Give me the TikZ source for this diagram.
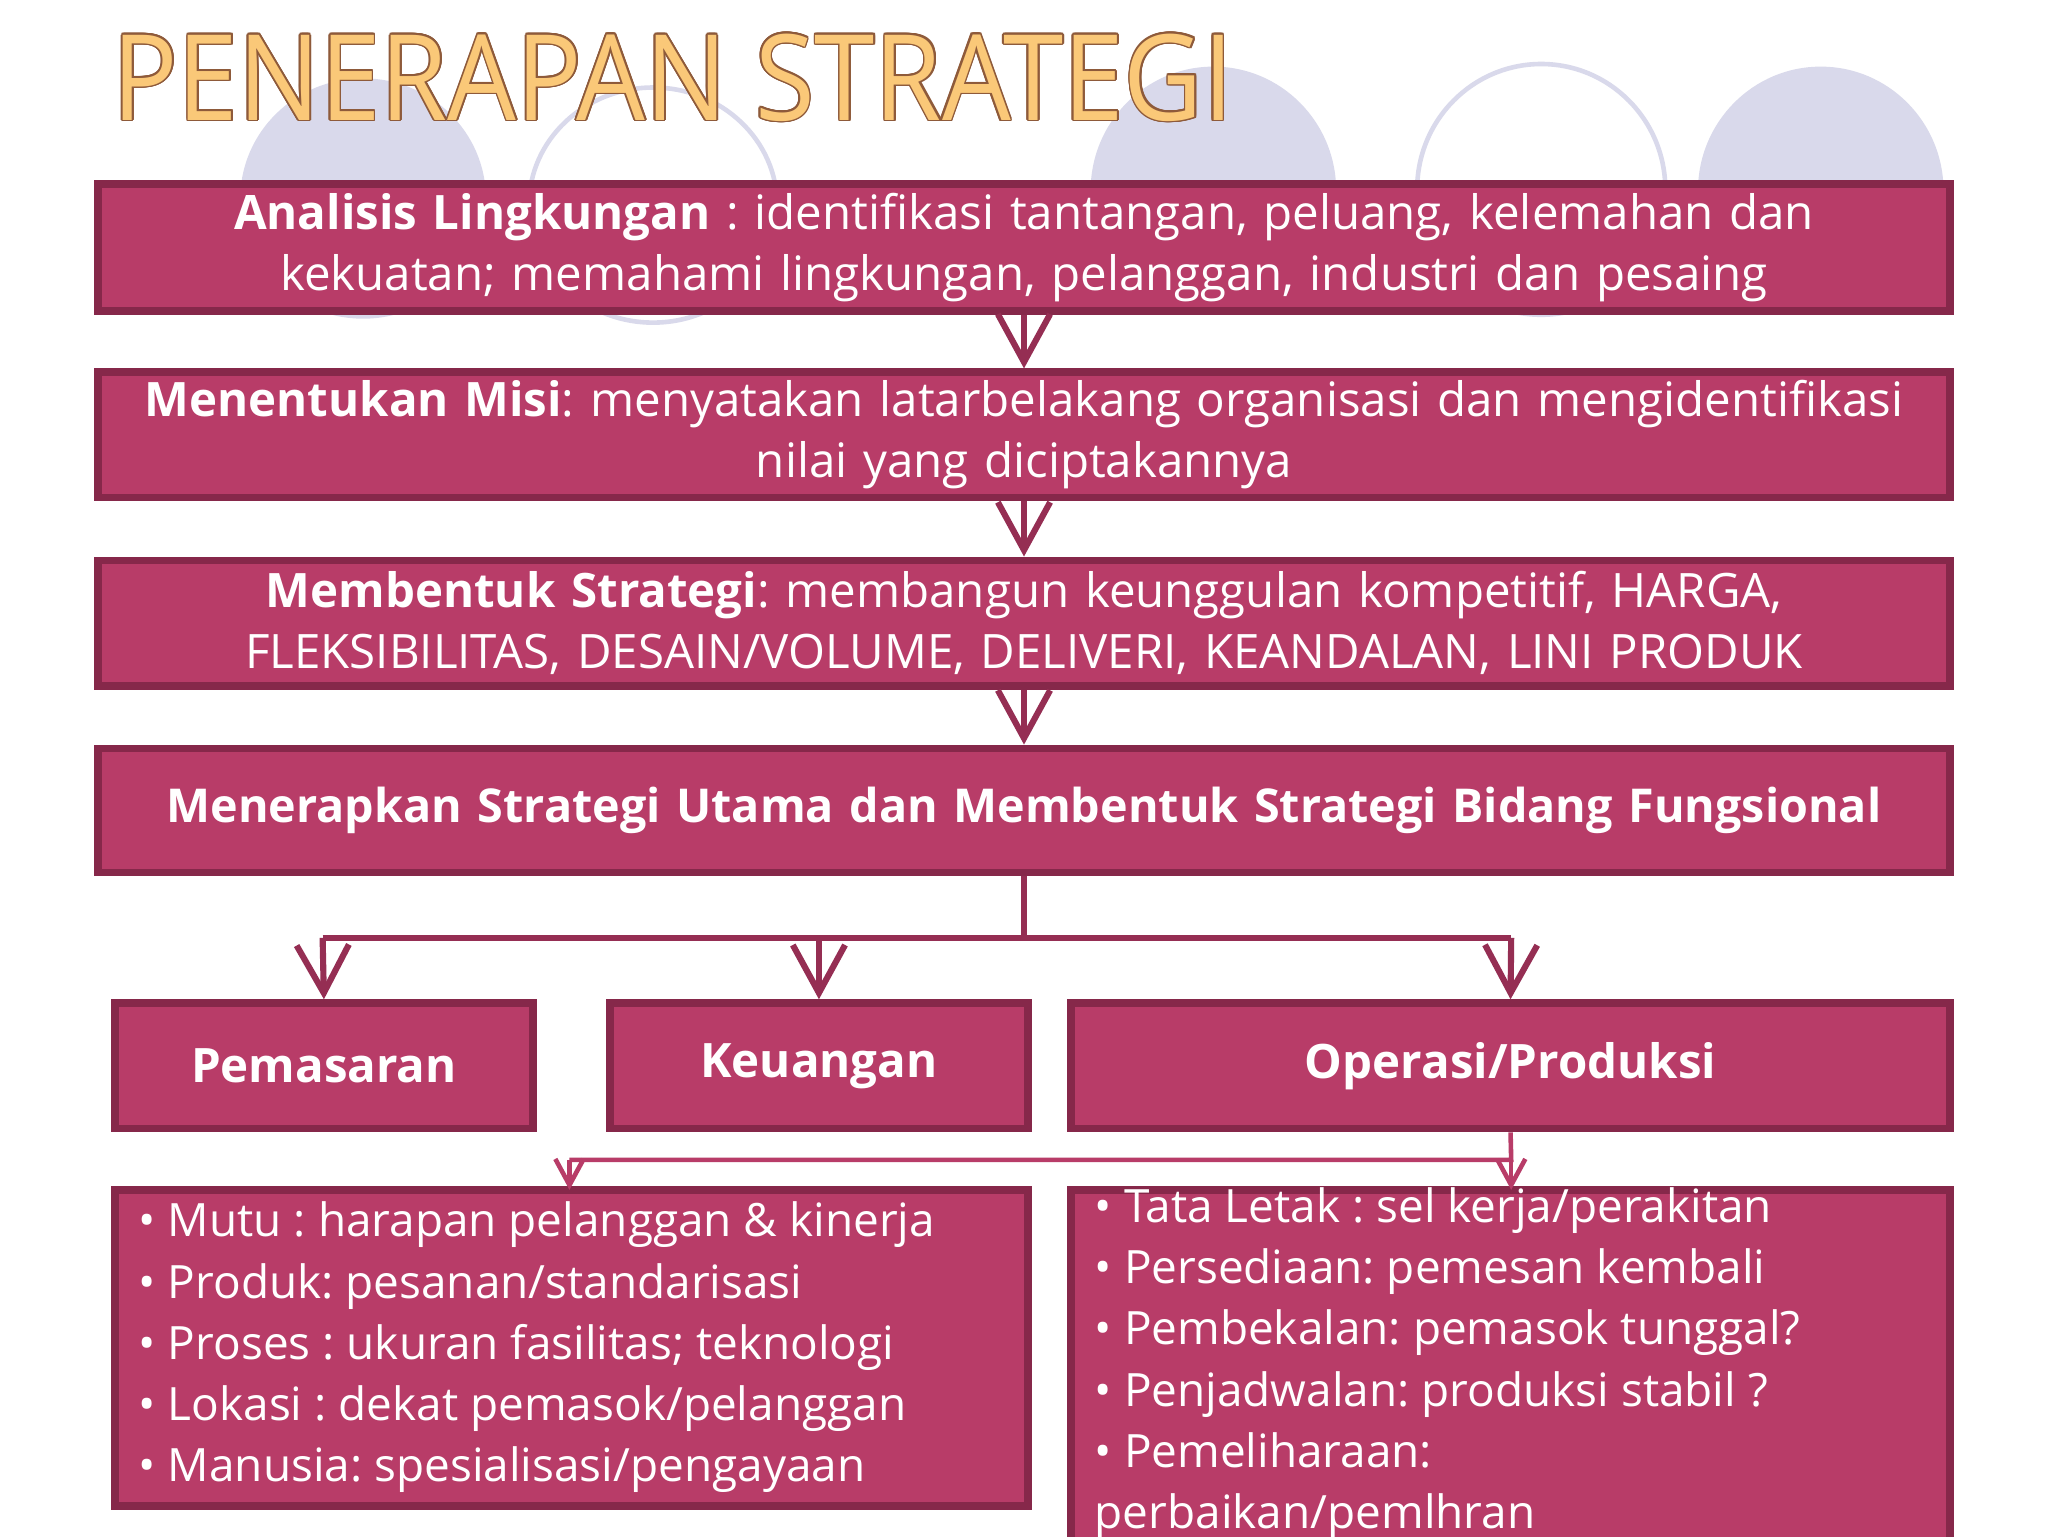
\documentclass[tikz,border=0pt]{standalone}
\usepackage{fontspec}
\setmainfont{Open Sans}
\usepackage[copies]{contour}
\usetikzlibrary{arrows.meta}
\definecolor{boxfill}{HTML}{B83C68}
\definecolor{boxline}{HTML}{86284A}
\definecolor{lav}{HTML}{D9D9EB}
\definecolor{titlefill}{HTML}{FAC878}
\definecolor{titleline}{HTML}{8E5A3A}
\contourlength{1.2pt}
\frenchspacing
\tikzset{
  box/.style={draw=boxline,fill=boxfill,line width=5pt,text=white,inner sep=0pt,align=center},
  btxt/.style={font=\fontsize{31}{40}\selectfont},
  ltxt/.style={anchor=north west,inner sep=0pt,text=white,align=left,font=\fontsize{30}{40}\selectfont},
  conn/.style={draw=boxline!70!boxfill,line width=4pt},
  bigarrow/.style={conn,-{Straight Barb[length=1.1cm,width=1.2cm,line width=4pt]}},
  smallarrow/.style={draw=boxfill,line width=3pt,-{Straight Barb[length=0.6cm,width=0.65cm,line width=3pt]}},
  lavfill/.style={fill=lav},
  lavring/.style={draw=lav,line width=3pt},
}
\begin{document}
\begin{tikzpicture}[x=0.03cm,y=-0.03cm]
\useasboundingbox (0,0) rectangle (1568,1176);
\clip (0,0) rectangle (1568,1176);
\fill[white] (0,0) rectangle (1568,1176);
% background circles
\fill[lavfill] (278,152) ellipse (94 and 92);
\draw[lavring] (500,157) ellipse (95 and 90);
\fill[lavfill] (929,146) ellipse (94 and 95);
\draw[lavring] (1180,145) ellipse (95 and 96);
\fill[lavfill] (1394,146) ellipse (94 and 95);
% title
\node[anchor=west,inner sep=0pt,xscale=0.91,font=\fontsize{78}{80}\selectfont,text=titlefill] (title) at (86,60) {\contour{titleline}{PENERAPAN STRATEGI}};
% main boxes
\node[box,btxt,minimum width=42.54cm,minimum height=2.91cm,text width=41.7cm] (b1) at (784,189.5)
 {\textbf{Analisis Lingkungan} : identifikasi tantangan, peluang, kelemahan dan\\kekuatan; memahami lingkungan, pelanggan, industri dan pesaing};
\node[box,btxt,minimum width=42.54cm,minimum height=2.88cm,text width=41.7cm] (b2) at (784,333)
 {\textbf{Menentukan Misi}: menyatakan latarbelakang organisasi dan mengidentifikasi\\nilai yang diciptakannya};
\node[box,btxt,minimum width=42.54cm,minimum height=2.88cm,text width=41.7cm] (b3) at (784,477)
 {\textbf{Membentuk Strategi}: membangun keunggulan kompetitif, HARGA,\\FLEKSIBILITAS, DESAIN/VOLUME, DELIVERI, KEANDALAN, LINI PRODUK};
\node[box,font=\fontsize{30.5}{40}\selectfont,minimum width=42.54cm,minimum height=2.85cm,text width=41.7cm] (b4) at (784,620.5)
 {\textbf{Menerapkan Strategi Utama dan Membentuk Strategi Bidang Fungsional}};
\node[box,btxt,minimum width=9.6cm,minimum height=2.88cm] (pem) at (248,816) {\textbf{Pemasaran}};
\node[box,btxt,minimum width=9.6cm,minimum height=2.88cm] (keu) at (627,816) {\textbf{Keuangan}};
\node[box,btxt,minimum width=20.19cm,minimum height=2.88cm] (ops) at (1156.5,816) {\textbf{Operasi/Produksi}};
\node[box,minimum width=20.97cm,minimum height=7.26cm] (bl) at (437.5,1032) {};
\node[box,minimum width=20.19cm,minimum height=8.7cm] (br) at (1156.5,1056) {};
\node[ltxt] (blt) at (106,920)
 {• Mutu : harapan pelanggan \& kinerja\\• Produk: pesanan/standarisasi\\• Proses : ukuran fasilitas; teknologi\\• Lokasi : dekat pemasok/pelanggan\\• Manusia: spesialisasi/pengayaan};
\node[ltxt] (brt) at (838,909)
 {• Tata Letak : sel kerja/perakitan\\• Persediaan: pemesan kembali\\• Pembekalan: pemasok tunggal?\\• Penjadwalan: produksi stabil ?\\• Pemeliharaan:\\perbaikan/pemlhran};
% connectors
\draw[bigarrow] (b1.south) -- (b2.north);
\draw[bigarrow] (b2.south) -- (b3.north);
\draw[bigarrow] (b3.south) -- (b4.north);
\coordinate (j) at (784,718);
\draw[conn] (b4.south) -- (j);
\draw[conn] (247,718) -- (1157,718);
\draw[bigarrow] (247,718) -- (pem.north);
\draw[bigarrow] (627,718) -- (keu.north);
\draw[bigarrow] (1157,718) -- (ops.north);
\coordinate (k) at (1157,888);
\draw[smallarrow,-] (ops.south) -- (k) -- (436,888);
\draw[smallarrow] (436,888) -- (436,911);
\draw[smallarrow] (k) -- (1157,911);
\end{tikzpicture}
\end{document}
